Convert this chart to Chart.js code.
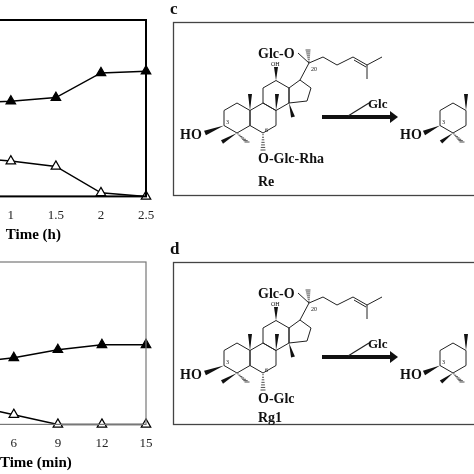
<!DOCTYPE html>
<html lang="en">
<head>
<meta charset="UTF-8">
<title>Re and Rg1 conversion</title>
<script src="https://cdn.jsdelivr.net/npm/chart.js"></script>
<style>
  body { margin: 0; width: 474px; height: 474px; overflow: hidden; background: #fff; position: relative; font-family: "Liberation Serif", serif; }
  .cv { position: absolute; }
  #art { position: absolute; left: 0; top: 0; }
</style>
</head>
<body>
<div class="cv" id="wrapA" style="left:-86px; top:0px; width:250px; height:250px;"><canvas id="chartA"></canvas></div>
<div class="cv" id="wrapB" style="left:-81px; top:240px; width:245px; height:242px;"><canvas id="chartB"></canvas></div>
<svg id="art" width="474" height="474"></svg>

<script>
// panel a: time in hours
const timeH = [0, 0.5, 1, 1.5, 2, 2.5];
const productA = [40, 53, 54, 56, 70, 71];   // filled triangles
const substrateA = [35, 22, 20, 17, 2, 0];   // open triangles

// panel b: time in minutes
const timeMin = [0, 3, 6, 9, 12, 15];
const productB = [30, 38, 41, 46, 49, 49];
const substrateB = [25, 12, 6, 0, 0, 0];

const boxPlugin = {
  id: 'box',
  afterDraw(chart, args, opts) {
    const a = chart.chartArea, c = chart.ctx;
    c.save();
    c.strokeStyle = opts.color;
    c.lineWidth = opts.width;
    c.strokeRect(a.left, a.top, a.right - a.left, a.bottom - a.top);
    c.restore();
  }
};

function makeChart(id, xs, filled, open, step, max, title, boxColor, boxWidth, pad) {
  const ds = (data, bg) => ({
    data: xs.map((x, i) => ({ x: x, y: data[i] })),
    borderColor: '#000', borderWidth: 1.5,
    pointStyle: 'triangle', pointRadius: 5.5,
    pointBackgroundColor: bg, pointBorderColor: '#000', pointBorderWidth: 1.2,
    tension: 0, clip: false
  });
  return new Chart(document.getElementById(id), {
    type: 'line',
    data: { datasets: [ds(filled, '#000'), ds(open, '#fff')] },
    plugins: [boxPlugin],
    options: {
      responsive: true, maintainAspectRatio: false, animation: false,
      layout: { padding: pad },
      plugins: { legend: { display: false }, tooltip: { enabled: false },
                 box: { color: boxColor, width: boxWidth } },
      scales: {
        x: {
          type: 'linear', min: 0, max: max,
          ticks: { stepSize: step, color: '#222', callback: v => String(v),
                   font: { family: 'Liberation Serif', size: 13 } },
          grid: { display: false },
          border: { display: false },
          title: { display: true, text: title, color: '#000', padding: 0,
                   font: { family: 'Liberation Serif', size: 15, weight: 'bold' } }
        },
        y: { display: false, min: 0, max: 100 }
      }
    }
  });
}

makeChart('chartA', timeH, productA, substrateA, 0.5, 2.5, 'Time (h)', '#000', 2,
  { left: 0, right: 18, top: 20, bottom: 6 });
makeChart('chartB', timeMin, productB, substrateB, 3, 15, 'Time (min)', '#777', 1.2,
  { left: 0, right: 18, top: 22, bottom: 10 });

// structures (decorative panels c and d)
const svg = document.getElementById('art');
const NS = 'http://www.w3.org/2000/svg';
function el(tag, attrs, text) {
  const e = document.createElementNS(NS, tag);
  for (const k in attrs) e.setAttribute(k, attrs[k]);
  if (text) e.textContent = text;
  svg.appendChild(e);
  return e;
}
function line(x1, y1, x2, y2, w) { el('line', { x1, y1, x2, y2, stroke: '#222', 'stroke-width': w || 1 }); }
function wedge(x1, y1, x2, y2, w) {
  const dx = x2 - x1, dy = y2 - y1, L = Math.hypot(dx, dy), nx = -dy / L * w, ny = dx / L * w;
  el('polygon', { points: `${x1},${y1} ${x2 + nx},${y2 + ny} ${x2 - nx},${y2 - ny}`, fill: '#111' });
}
function hashed(x1, y1, x2, y2) {
  for (let t = 0.1; t <= 1; t += 0.15) {
    const x = x1 + (x2 - x1) * t, y = y1 + (y2 - y1) * t, h = 0.5 + t * 2;
    line(x - h, y, x + h, y, 0.8);
  }
}
function hex(cx, cy) {
  const p = [[0, -15], [13, -7.5], [13, 7.5], [0, 15], [-13, 7.5], [-13, -7.5]];
  el('polygon', { points: p.map(q => `${cx + q[0]},${cy + q[1]}`).join(' '), fill: 'none', stroke: '#222', 'stroke-width': 1 });
}
function txt(x, y, s, size, bold) {
  el('text', { x, y, 'font-family': 'Liberation Serif', 'font-size': size, 'font-weight': bold ? 'bold' : 'normal', fill: '#111' }, s);
}

function panel(dy, letter, boxH, sugar, name) {
  txt(170, dy - 8, letter, 17, true);
  el('rect', { x: 173.5, y: dy + 0.5, width: 310, height: boxH, fill: 'none', stroke: '#444', 'stroke-width': 1.3 });
  const o = dy - 22;
  hex(237, 118 + o); hex(263, 118 + o); hex(276, 95.5 + o);
  el('polygon', { points: `289,${88 + o} 300,${80 + o} 311,${88 + o} 307,${101 + o} 289,${103 + o}`, fill: 'none', stroke: '#222', 'stroke-width': 1 });
  // side chain
  line(300, 80 + o, 309, 63 + o); line(309, 63 + o, 323, 57 + o); line(323, 57 + o, 337, 65 + o);
  line(337, 65 + o, 353, 57 + o); line(353, 57 + o, 367, 65 + o); line(354, 60 + o, 366, 67 + o);
  line(367, 65 + o, 382, 57 + o); line(367, 65 + o, 367, 79 + o);
  hashed(309, 63 + o, 308, 50 + o);
  line(298, 53 + o, 309, 63 + o);
  txt(258, 58 + o, 'Glc-O', 14, true);
  txt(311, 71 + o, '20', 6);
  // OH at C12
  wedge(276, 80.5 + o, 276, 67 + o, 2);
  txt(271, 66 + o, 'OH', 6);
  // methyls
  wedge(250, 110.5 + o, 250, 94 + o, 2);
  wedge(276, 110.5 + o, 277, 94 + o, 2);
  wedge(289, 103 + o, 293, 117 + o, 2);
  wedge(237, 133 + o, 222, 142 + o, 2);
  hashed(237, 133 + o, 247, 142 + o);
  // C3 and C6
  wedge(224, 125.5 + o, 205, 133 + o, 2.5);
  txt(180, 139 + o, 'HO', 14, true);
  txt(226, 124 + o, '3', 6);
  hashed(263, 133 + o, 263, 150 + o);
  txt(265, 132 + o, '6', 6);
  txt(258, 163 + o, sugar, 14, true);
  txt(258, 186 + o + (name === 'Rg1' ? -4 : 0), name, 14, true);
  // arrow
  el('rect', { x: 322, y: 115 + o, width: 70, height: 4, fill: '#111' });
  el('polygon', { points: `390,${111 + o} 398,${117 + o} 390,${123 + o}`, fill: '#111' });
  line(348, 116 + o, 369, 103 + o, 1.2);
  txt(368, 108 + o, 'Glc', 13, true);
  // product fragment
  hex(453, 118 + o);
  wedge(440, 125.5 + o, 424, 133 + o, 2.5);
  txt(400, 139 + o, 'HO', 14, true);
  txt(442, 124 + o, '3', 6);
  wedge(466, 110.5 + o, 466, 94 + o, 2);
  wedge(453, 133 + o, 441, 142 + o, 2);
  hashed(453, 133 + o, 462, 142 + o);
}
panel(22, 'c', 173, 'O-Glc-Rha', 'Re');
panel(262, 'd', 162, 'O-Glc', 'Rg1');
</script>
</body>
</html>
